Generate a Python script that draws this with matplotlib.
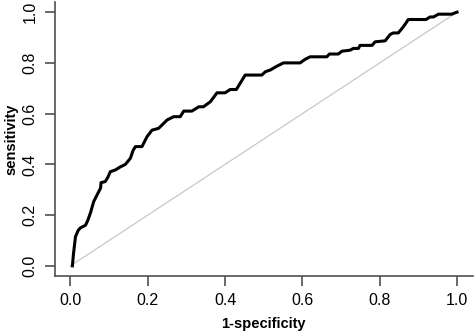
import matplotlib
matplotlib.use("Agg")
import matplotlib.pyplot as plt

# ROC curve points (1-specificity, sensitivity)
fpr = [0.005, 0.008, 0.013, 0.020, 0.026, 0.039, 0.045, 0.052, 0.060, 0.069, 0.078, 0.079,
       0.090, 0.097, 0.103, 0.116, 0.129, 0.142, 0.155, 0.162, 0.168, 0.185, 0.198, 0.211,
       0.228, 0.250, 0.267, 0.284, 0.293, 0.314, 0.332, 0.344, 0.362, 0.379, 0.400, 0.413,
       0.429, 0.452, 0.495, 0.504, 0.517, 0.534, 0.551, 0.594, 0.607, 0.620, 0.663, 0.670,
       0.693, 0.702, 0.723, 0.732, 0.745, 0.749, 0.780, 0.788, 0.814, 0.827, 0.835, 0.848,
       0.861, 0.874, 0.920, 0.930, 0.939, 0.952, 0.986, 1.000]
tpr = [0.000, 0.050, 0.115, 0.140, 0.150, 0.160, 0.180, 0.210, 0.253, 0.280, 0.307, 0.328,
       0.332, 0.350, 0.371, 0.378, 0.390, 0.400, 0.424, 0.455, 0.470, 0.470, 0.509, 0.535,
       0.542, 0.575, 0.588, 0.588, 0.610, 0.610, 0.627, 0.627, 0.647, 0.682, 0.682, 0.695,
       0.695, 0.752, 0.752, 0.765, 0.772, 0.787, 0.800, 0.800, 0.814, 0.824, 0.824, 0.835,
       0.835, 0.846, 0.850, 0.857, 0.857, 0.869, 0.869, 0.883, 0.887, 0.912, 0.918, 0.918,
       0.942, 0.971, 0.971, 0.981, 0.981, 0.992, 0.992, 1.000]
diag = [0.0, 1.0]
ticks = [0.0, 0.2, 0.4, 0.6, 0.8, 1.0]
tick_labels = ["0.0", "0.2", "0.4", "0.6", "0.8", "1.0"]

plt.rcParams['font.family'] = ['Liberation Sans', 'DejaVu Sans']

fig = plt.figure(figsize=(4.74, 3.34), dpi=100)
ax = fig.add_axes([55/474, (334-276)/334, (472.5-55)/474, (276-2)/334])

ax.plot(diag, diag, color='#c8c8c8', lw=0.9)
ax.plot(fpr, tpr, color='black', lw=2.2, solid_joinstyle='round')

ax.set_xlim(-0.04, 1.04)
ax.set_ylim(-0.04, 1.04)
ax.spines['top'].set_visible(False)
ax.spines['right'].set_visible(False)
for s in ['left', 'bottom']:
    ax.spines[s].set_color('#505050')
    ax.spines[s].set_linewidth(1.2)

ax.set_xticks(ticks)
ax.set_xticklabels(tick_labels)
ax.set_yticks(ticks)
ax.set_yticklabels(tick_labels, rotation=90, va='center')
ax.tick_params(axis='both', length=7, width=1.2, color='#505050', labelsize=11.5, pad=5.5)

ax.set_xlabel('1-specificity', fontsize=10.5, fontweight='bold', labelpad=6)
ax.set_ylabel('sensitivity', fontsize=10.5, fontweight='bold', labelpad=3)

fig.savefig('out.png', dpi=100)
